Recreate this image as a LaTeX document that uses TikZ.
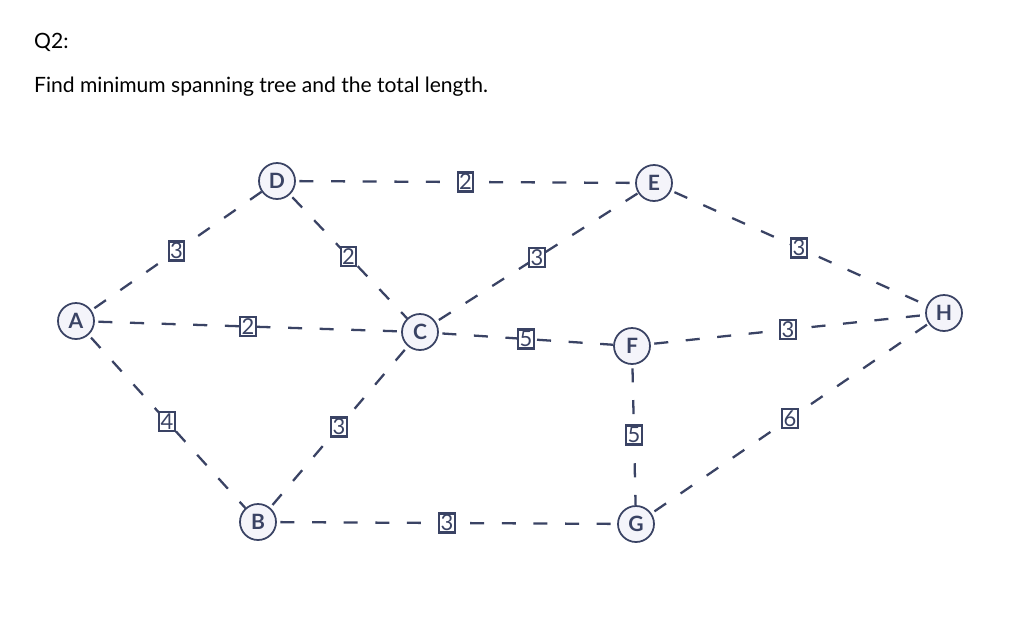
\documentclass[tikz,border=0pt]{standalone}
\usepackage{fontspec}
\setmainfont{Lato}
\begin{document}
\begin{tikzpicture}[x=0.02cm,y=-0.02cm,
  ln/.style={draw=lc,line width=1.3pt,dash pattern=on 8pt off 10pt,dash phase=-2pt},
  vx/.style={circle,draw=lc,line width=1pt,fill=nf,minimum size=36*0.02cm,inner sep=0pt,font=\fontsize{12}{12}\selectfont\bfseries,text=lc},
  lab/.style={solid,draw=lc,line width=1.3pt,fill=white,inner sep=0.8pt,minimum width=13*0.02cm,minimum height=19*0.02cm,font=\fontsize{12.5}{12.5}\selectfont,text=lc,pos=0.5}]
\definecolor{lc}{HTML}{3A4364}
\definecolor{nf}{HTML}{F4F4FA}
\useasboundingbox (0,0) rectangle (1011,640);
\node[anchor=west,font=\fontsize{12}{12}\selectfont] (q) at (28,42) {Q2:};
\node[anchor=west,font=\fontsize{12}{12}\selectfont] (t) at (28,87) {Find minimum spanning tree and the total length.};
\node[vx] (A) at (76,321) {A};
\node[vx] (D) at (277,181) {D};
\node[vx] (E) at (654,183) {E};
\node[vx] (H) at (944,313) {H};
\node[vx] (C) at (420,332) {C};
\node[vx] (F) at (632,346) {F};
\node[vx] (B) at (258,522) {B};
\node[vx] (G) at (636,524) {G};
\path[ln] (A) -- node[lab] (l1) {3} (D);
\path[ln] (D) -- node[lab] (l2) {2} (E);
\path[ln] (D) -- node[lab] (l3) {2} (C);
\path[ln] (C) -- node[lab] (l4) {3} (E);
\path[ln] (E) -- node[lab] (l5) {3} (H);
\path[ln] (A) -- node[lab] (l6) {2} (C);
\path[ln] (C) -- node[lab] (l7) {5} (F);
\path[ln] (F) -- node[lab] (l8) {3} (H);
\path[ln] (A) -- node[lab] (l9) {4} (B);
\path[ln] (B) -- node[lab] (l10) {3} (C);
\path[ln] (F) -- node[lab] (l11) {5} (G);
\path[ln] (G) -- node[lab] (l12) {6} (H);
\path[ln] (B) -- node[lab] (l13) {3} (G);
\end{tikzpicture}
\end{document}
